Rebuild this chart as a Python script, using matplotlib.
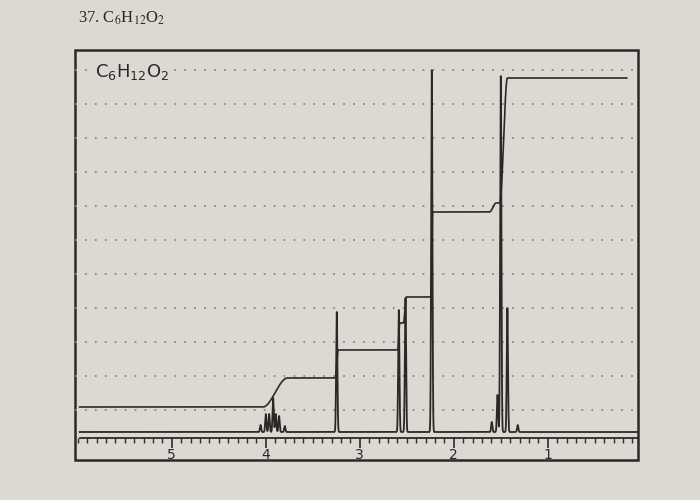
import numpy as np
import matplotlib.pyplot as plt
from matplotlib.patches import Rectangle
from matplotlib.ticker import MultipleLocator

# peaks: shift (ppm) and height above the baseline
peak_ppm = [4.056, 4.000, 3.965, 3.922, 3.894, 3.859, 3.798,
            3.245, 2.585, 2.514, 2.234,
            1.596, 1.535, 1.500, 1.430, 1.320]
peak_height = [7, 18, 18, 34, 18, 16, 6,
               120, 122, 134, 362,
               10, 37, 356, 124, 7]

# integral trace: each step rises between start and end ppm to a new level
integral_start = 25
step_start = [4.03, 3.26, 2.595, 2.535, 2.245, 1.62, 1.51]
step_end = [3.77, 3.23, 2.575, 2.505, 2.225, 1.55, 1.43]
step_level = [54, 82, 109, 135, 220, 229, 354]

grid_rows = [22, 56, 90, 124, 158, 192, 226, 260, 294, 328, 362]
major_ticks = [5, 4, 3, 2, 1]

ink = '#2b2927'
paper = '#dcd9d3'

ppm = np.linspace(5.98, 0.04, 20000)
sigma = 0.0065
spectrum = np.zeros_like(ppm)
for p, h in zip(peak_ppm, peak_height):
    spectrum += h * np.exp(-0.5 * ((ppm - p) / sigma) ** 2)

integral = np.full_like(ppm, integral_start, dtype=float)
level = integral_start
for s, e, lv in zip(step_start, step_end, step_level):
    t = np.clip((s - ppm) / (s - e), 0, 1)
    integral += (lv - level) * (3 * t ** 2 - 2 * t ** 3)
    level = lv
mask = ppm >= 0.16

fig = plt.figure(figsize=(7, 5), dpi=100, facecolor=paper)
ax = fig.add_axes([75 / 700, 40 / 500, 563 / 700, 410 / 500], facecolor=paper)

ax.plot(ppm, spectrum, color=ink, lw=1.3)
ax.plot(ppm[mask], integral[mask], color=ink, lw=1.2)

ax.set_xlim(6.03, 0.04)
ax.set_ylim(-28, 382)

# ruler inside the frame
for side in ['top', 'left', 'right']:
    ax.spines[side].set_visible(False)
ax.spines['bottom'].set_position(('data', -6))
ax.spines['bottom'].set_bounds(5.98, 0.04)
ax.spines['bottom'].set_color(ink)
ax.spines['bottom'].set_linewidth(1.3)
ax.add_patch(Rectangle((0, 0), 1, 1, transform=ax.transAxes, fill=False,
                       lw=1.8, edgecolor=ink, clip_on=False))

ax.set_xticks(major_ticks)
ax.xaxis.set_minor_locator(MultipleLocator(0.1))
ax.tick_params(axis='x', which='major', direction='out', length=7, width=1.2,
               labelsize=10, pad=0, colors=ink)
ax.tick_params(axis='x', which='minor', direction='out', length=3.5, width=1, colors=ink)

ax.set_yticks(grid_rows)
ax.tick_params(axis='y', length=0, labelleft=False)
ax.grid(axis='y', ls=(0, (1, 4.5)), lw=1.3, color='#8c8883')

ax.text(0.036, 0.946, r'C$_6$H$_{12}$O$_2$', transform=ax.transAxes,
        fontsize=13, color=ink, ha='left', va='center',
        bbox=dict(facecolor=paper, edgecolor='none', pad=1))

fig.text(78 / 700, 1 - 18 / 500, r'37. C$_6$H$_{12}$O$_2$', fontsize=12,
         family='Liberation Serif', math_fontfamily='stix', color=ink, va='center')

fig.savefig('out.png', dpi=100, facecolor=paper)
